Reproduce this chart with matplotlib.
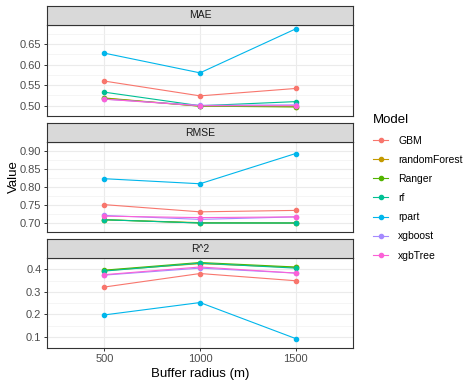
import matplotlib
matplotlib.use("Agg")
import matplotlib.pyplot as plt
from matplotlib.lines import Line2D
import numpy as np

plt.rcParams['font.family'] = ['Liberation Sans', 'DejaVu Sans']

radius = [500, 1000, 1500]
models = ["GBM", "randomForest", "Ranger", "rf", "rpart", "xgboost", "xgbTree"]
colors = ["#F8766D", "#C49A00", "#53B400", "#00C094", "#00B6EB", "#A58AFF", "#FB61D7"]
metrics = ["MAE", "RMSE", "R^2"]

mae = {
    "GBM":          [0.560, 0.524, 0.542],
    "randomForest": [0.519, 0.499, 0.498],
    "Ranger":       [0.518, 0.499, 0.497],
    "rf":           [0.533, 0.500, 0.510],
    "rpart":        [0.628, 0.580, 0.687],
    "xgboost":      [0.516, 0.501, 0.502],
    "xgbTree":      [0.516, 0.500, 0.500],
}
rmse = {
    "GBM":          [0.751, 0.731, 0.735],
    "randomForest": [0.709, 0.701, 0.700],
    "Ranger":       [0.709, 0.700, 0.700],
    "rf":           [0.709, 0.700, 0.700],
    "rpart":        [0.823, 0.809, 0.893],
    "xgboost":      [0.721, 0.710, 0.717],
    "xgbTree":      [0.719, 0.715, 0.717],
}
r2 = {
    "GBM":          [0.321, 0.381, 0.349],
    "randomForest": [0.394, 0.425, 0.408],
    "Ranger":       [0.396, 0.430, 0.410],
    "rf":           [0.392, 0.427, 0.405],
    "rpart":        [0.197, 0.252, 0.092],
    "xgboost":      [0.374, 0.405, 0.383],
    "xgbTree":      [0.376, 0.410, 0.383],
}
data = [mae, rmse, r2]
yticks = [[0.50, 0.55, 0.60, 0.65], [0.70, 0.75, 0.80, 0.85, 0.90], [0.1, 0.2, 0.3, 0.4]]
ytick_labels = [["0.50", "0.55", "0.60", "0.65"], ["0.70", "0.75", "0.80", "0.85", "0.90"],
                ["0.1", "0.2", "0.3", "0.4"]]
xticks = [500, 1000, 1500]

W, H = 474, 386
fig = plt.figure(figsize=(W / 100, H / 100), dpi=100)

left, right = 47, 353
panels = [(6, 25, 116), (123, 142, 232), (239, 258, 348)]  # strip top, plot top, plot bottom

grey20 = "#333333"
grey30 = "#4D4D4D"
grid = "#EBEBEB"

axes = []
for i, (st, pt, pb) in enumerate(panels):
    ax = fig.add_axes([left / W, 1 - pb / H, (right - left) / W, (pb - pt) / H])
    sax = fig.add_axes([left / W, 1 - pt / H, (right - left) / W, (pt - st) / H])
    sax.set_facecolor("#D9D9D9")
    sax.set_xticks([]); sax.set_yticks([])
    for s in sax.spines.values():
        s.set_color(grey20); s.set_linewidth(0.8)
    sax.text(0.5, 0.5, metrics[i], ha="center", va="center", fontsize=7.5, color="#1A1A1A",
             transform=sax.transAxes)

    d = data[i]
    vals = np.array([d[m] for m in models])
    lo, hi = vals.min(), vals.max()
    pad = (hi - lo) * 0.05
    ax.set_ylim(lo - pad, hi + pad)
    ax.set_xlim(200, 1800)

    for m, c in zip(models, colors):
        ax.plot(radius, d[m], color=c, lw=0.8, zorder=3)
    for m, c in zip(models, colors):
        ax.plot(radius, d[m], color=c, lw=0, marker="o", ms=3.0, zorder=4)

    ax.set_yticks(yticks[i])
    ax.set_yticklabels(ytick_labels[i])
    yt = yticks[i]
    step = yt[1] - yt[0]
    minors = [yt[0] - step / 2] + [v + step / 2 for v in yt]
    ax.set_yticks(minors, minor=True)
    ax.set_xticks(xticks)
    ax.grid(True, which="major", color=grid, lw=0.8, zorder=0)
    ax.grid(True, which="minor", axis="y", color="#F2F2F2", lw=0.5, zorder=0)
    ax.set_axisbelow(True)
    ax.tick_params(axis="both", which="major", length=2.5, width=0.7, color=grey20,
                   labelsize=8, labelcolor=grey30, pad=1.5)
    ax.tick_params(axis="y", which="minor", length=0)
    for s in ax.spines.values():
        s.set_color(grey20); s.set_linewidth(0.8)
    if i < 2:
        ax.tick_params(axis="x", which="both", length=0, labelbottom=False)
    axes.append(ax)

axes[2].set_xticklabels([str(v) for v in xticks])
fig.text((left + right) / 2 / W, 1 - 374 / H, "Buffer radius (m)", ha="center", va="center",
         fontsize=9.5, color="black")
fig.text(14 / W, 1 - 177 / H, "Value", ha="center", va="center", rotation=90,
         fontsize=9.5, color="black")

handles = [Line2D([0], [0], color=c, lw=0.8, marker="o", ms=3.0) for c in colors]
leg = fig.legend(handles, models, loc="upper left", bbox_to_anchor=(364 / W, 1 - 105 / H),
                 frameon=False, title="Model", fontsize=7.5, title_fontsize=9.5,
                 handlelength=1.4, labelspacing=0.88, alignment="left", handletextpad=1.0)

fig.savefig("out.png", dpi=100)
